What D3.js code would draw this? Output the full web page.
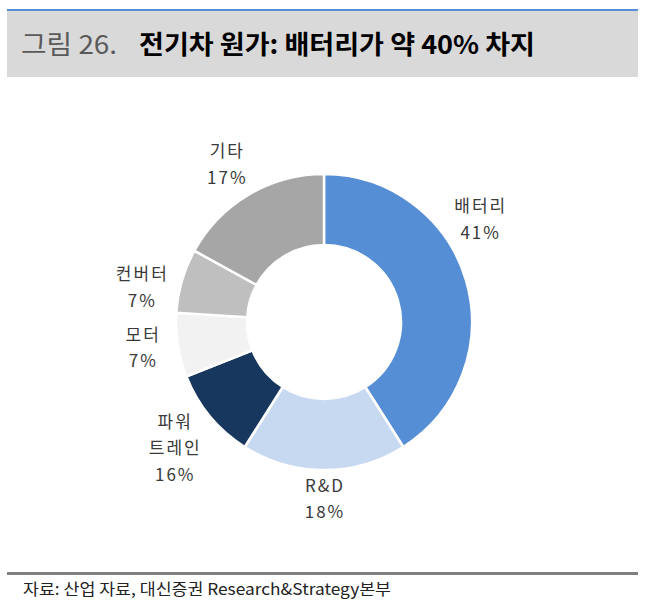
<!DOCTYPE html>
<html>
<head>
<meta charset="utf-8">
<script src="https://cdn.jsdelivr.net/npm/d3@7"></script>
<style>
  html, body { margin: 0; padding: 0; background: #fff; }
  svg { display: block; }
</style>
</head>
<body>
<svg width="645" height="602"></svg>
<script>
// slice order, clockwise from 12 o'clock
const parts = ['배터리', 'R&D', '파워트레인', '모터', '컨버터', '기타']
// label lines as printed in the chart
const partLines = [['배터리'], ['R&D'], ['파워', '트레인'], ['모터'], ['컨버터'], ['기타']]
// arc sizes (%)
const shares = [41, 18, 10, 7, 7, 17]
// percentage texts as printed
const shareLabels = ['41%', '18%', '16%', '7%', '7%', '17%']
const colors = ['#558ed5', '#c6d9f1', '#17375e', '#f2f2f2', '#bfbfbf', '#a6a6a6']

const svg = d3.select('svg')
const W = 645

// title band
svg.append('rect').attr('x', 7).attr('y', 11).attr('width', W - 14).attr('height', 66).attr('fill', '#d9d9d9')
svg.append('line').attr('x1', 7).attr('x2', W - 7).attr('y1', 10).attr('y2', 10)
  .attr('stroke', '#558ed5').attr('stroke-width', 2)

svg.append('text').attr('x', 21).attr('y', 54)
  .attr('font-family', '"Noto Sans CJK KR", sans-serif').attr('font-size', 26)
  .attr('fill', '#595959')
  .attr('textLength', 96).attr('lengthAdjust', 'spacingAndGlyphs')
  .text('그림 26.')
svg.append('text').attr('x', 139).attr('y', 54)
  .attr('font-family', '"Noto Sans CJK KR", sans-serif').attr('font-size', 26)
  .attr('font-weight', 'bold').attr('fill', '#000')
  .attr('textLength', 396).attr('lengthAdjust', 'spacingAndGlyphs')
  .text('전기차 원가: 배터리가 약 40% 차지')

// donut
const cx = 324, cy = 322
const outerR = 148, innerR = 77

const pie = d3.pie().value(d => d).sort(null)
const arcs = pie(shares)
const arc = d3.arc().innerRadius(innerR).outerRadius(outerR)
const labelArc = d3.arc().innerRadius(184).outerRadius(184)

const g = svg.append('g').attr('transform', `translate(${cx},${cy})`)

g.selectAll('path')
  .data(arcs)
  .join('path')
  .attr('d', arc)
  .attr('fill', (d, i) => colors[i])
  .attr('stroke', '#fff')
  .attr('stroke-width', 2.5)

// labels sit on an outer ring at the slice centroid, with a few hand nudges like the source
const nudge = [[-21, -51], [0, -7], [-8, 9], [0, -3], [-6, 17], [-4, 1]]
const lineH = 26.5

const labels = g.selectAll('g.lbl')
  .data(arcs)
  .join('g')
  .attr('class', 'lbl')
  .attr('transform', (d, i) => {
    const [x, y] = labelArc.centroid(d)
    return `translate(${x + nudge[i][0]},${y + nudge[i][1]})`
  })

labels.each(function (d, i) {
  const lines = partLines[i].concat([shareLabels[i]])
  const t = d3.select(this).append('text')
    .attr('text-anchor', 'middle')
    .attr('font-family', '"Noto Sans CJK KR", sans-serif')
    .attr('font-size', 17)
    .attr('letter-spacing', 2)
    .attr('fill', '#3a3a3a')
  const y0 = -((lines.length - 1) * lineH) / 2 + 6
  lines.forEach((s, k) => {
    t.append('tspan').attr('x', 1).attr('y', y0 + k * lineH).text(s)
  })
})

// source line
svg.append('line').attr('x1', 7).attr('x2', W - 7).attr('y1', 573.5).attr('y2', 573.5)
  .attr('stroke', '#808080').attr('stroke-width', 3)
svg.append('text').attr('x', 23).attr('y', 595)
  .attr('font-family', '"Noto Sans CJK KR", sans-serif').attr('font-size', 16)
  .attr('fill', '#222')
  .attr('textLength', 368).attr('lengthAdjust', 'spacingAndGlyphs')
  .text('자료: 산업 자료, 대신증권 Research&Strategy본부')
</script>
</body>
</html>
